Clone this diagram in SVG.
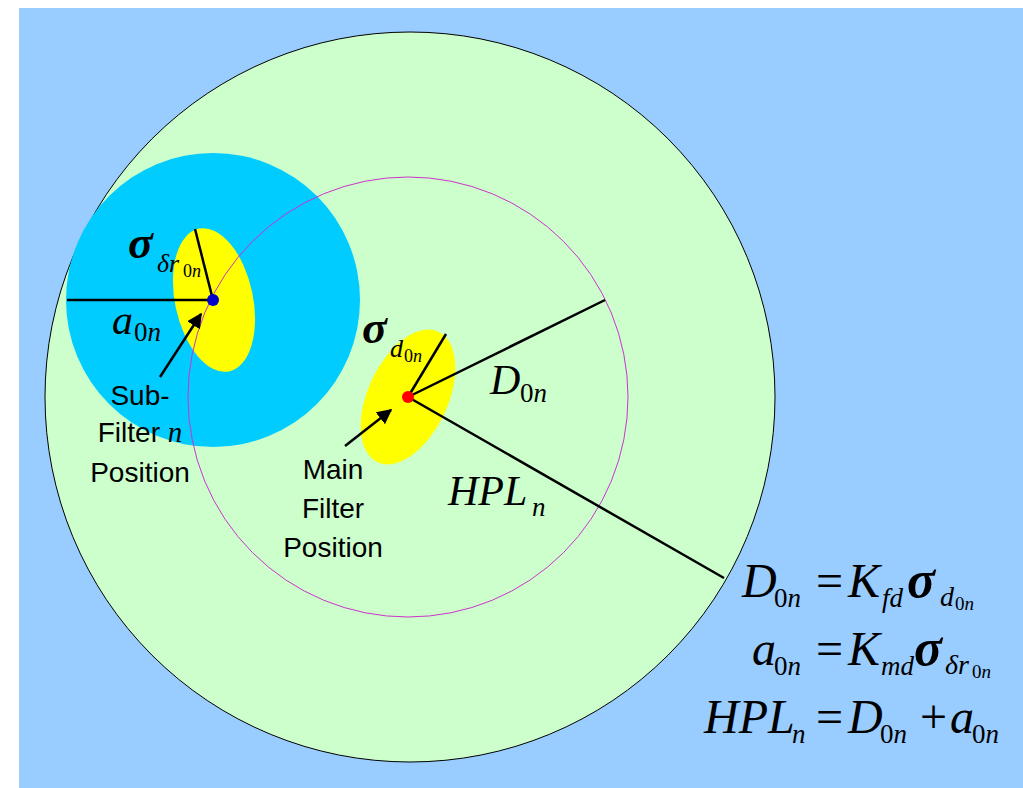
<svg xmlns="http://www.w3.org/2000/svg" width="1023" height="788" viewBox="0 0 1023 788">
<style>
.m{font-family:"Liberation Serif",serif;font-style:italic;fill:#000}
.u{font-family:"Liberation Serif",serif;font-style:normal}
.g{font-family:"Liberation Serif",serif;font-style:italic;font-weight:bold;fill:#000}
.s{font-family:"Liberation Sans",Arial,sans-serif;font-size:28px;fill:#000;text-anchor:middle}
.ln{stroke:#000;stroke-width:2.5;fill:none}
</style>
<defs>
<marker id="ah" viewBox="0 0 10 10" refX="9" refY="5" markerWidth="6" markerHeight="6" orient="auto"><path d="M0,0L10,5L0,10z" fill="#000"/></marker>
</defs>
<rect x="0" y="0" width="1023" height="788" fill="#fff"/>
<rect x="19" y="8" width="1004" height="780" fill="#99CCFF"/>
<g id="outer"><circle cx="410" cy="397" r="365" fill="#CCFFCC" stroke="#000" stroke-width="1"/></g>
<g id="subfilter">
<circle cx="213" cy="300" r="147" fill="#00CCFF"/>
<ellipse cx="214" cy="300" rx="39" ry="73" transform="rotate(-12 214 300)" fill="#FFFF00"/>
</g>
<g id="main"><ellipse cx="408" cy="397" rx="40" ry="72" transform="rotate(25 408 397)" fill="#FFFF00"/></g>
<g id="hpl"><circle cx="408" cy="397" r="220" fill="none" stroke="#CC33CC" stroke-width="1"/></g>
<g id="connectors">
<line class="ln" x1="67" y1="300" x2="213" y2="300"/>
<line class="ln" x1="213" y1="300" x2="195" y2="229"/>
<line class="ln" x1="408" y1="397" x2="446" y2="334"/>
<line class="ln" x1="408" y1="397" x2="605" y2="300"/>
<line class="ln" x1="408" y1="397" x2="724" y2="578"/>
<line class="ln" x1="160" y1="377" x2="201" y2="314" marker-end="url(#ah)"/>
<line class="ln" x1="345" y1="446" x2="391" y2="410" marker-end="url(#ah)"/>
</g>
<circle cx="213" cy="300" r="6" fill="#0000CC"/>
<circle cx="408" cy="397" r="6" fill="#FF0000"/>
<g id="labels">
<text class="s" x="140" y="405">Sub-</text>
<text class="s" x="140" y="442">Filter <tspan class="m" font-size="29">n</tspan></text>
<text class="s" x="140" y="482">Position</text>
<text class="s" x="333" y="479">Main</text>
<text class="s" x="333" y="518">Filter</text>
<text class="s" x="333" y="557">Position</text>
<text class="g" x="128" y="258" font-size="46">σ</text>
<text class="m" x="157" y="272" font-size="26">δr</text>
<text x="183" y="277" font-size="18"><tspan class="u">0</tspan><tspan class="m">n</tspan></text>
<text class="m" x="112" y="334" font-size="42">a</text>
<text x="134" y="341" font-size="27"><tspan class="u">0</tspan><tspan class="m">n</tspan></text>
<text class="g" x="362" y="343" font-size="46">σ</text>
<text class="m" x="390" y="357" font-size="26">d</text>
<text x="404" y="362" font-size="18"><tspan class="u">0</tspan><tspan class="m">n</tspan></text>
<text class="m" x="490" y="394" font-size="42">D</text>
<text x="520" y="402" font-size="27"><tspan class="u">0</tspan><tspan class="m">n</tspan></text>
<text class="m" x="448" y="505" font-size="42">HPL</text>
<text class="m" x="532" y="516" font-size="27">n</text>
</g>
<g id="equations">
<text class="m" x="742" y="597" font-size="48">D</text>
<text x="774" y="607" font-size="27"><tspan class="u">0</tspan><tspan class="m">n</tspan></text>
<text class="u" x="816" y="597" font-size="48">=</text>
<text class="m" x="848" y="597" font-size="48">K</text>
<text class="m" x="882" y="607" font-size="27">fd</text>
<text class="g" x="907" y="597" font-size="52">σ</text>
<text class="m" x="940" y="606" font-size="28">d</text>
<text x="955" y="610" font-size="19"><tspan class="u">0</tspan><tspan class="m">n</tspan></text>
<text class="m" x="752" y="665" font-size="48">a</text>
<text x="774" y="675" font-size="27"><tspan class="u">0</tspan><tspan class="m">n</tspan></text>
<text class="u" x="816" y="665" font-size="48">=</text>
<text class="m" x="848" y="665" font-size="48">K</text>
<text class="m" x="881" y="675" font-size="27">md</text>
<text class="g" x="914" y="665" font-size="52">σ</text>
<text class="m" x="945" y="674" font-size="28">δr</text>
<text x="972" y="678" font-size="19"><tspan class="u">0</tspan><tspan class="m">n</tspan></text>
<text class="m" x="704" y="733" font-size="48">HPL</text>
<text class="m" x="792" y="743" font-size="27">n</text>
<text class="u" x="816" y="733" font-size="48">=</text>
<text class="m" x="848" y="733" font-size="48">D</text>
<text x="880" y="743" font-size="27"><tspan class="u">0</tspan><tspan class="m">n</tspan></text>
<text class="u" x="920" y="733" font-size="48">+</text>
<text class="m" x="950" y="733" font-size="48">a</text>
<text x="972" y="743" font-size="27"><tspan class="u">0</tspan><tspan class="m">n</tspan></text>
</g>
</svg>
